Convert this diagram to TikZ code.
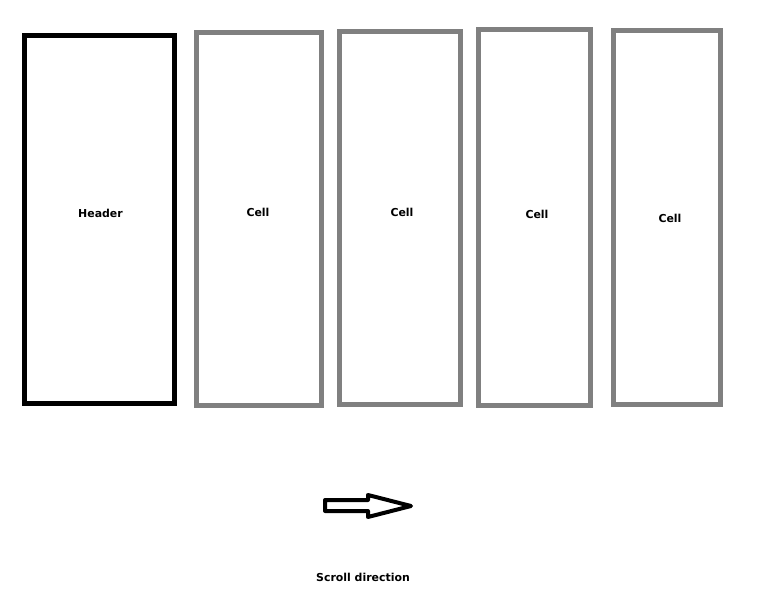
\documentclass[tikz,border=0pt]{standalone}
\usepackage{fontspec}
\setmainfont{DejaVu Sans}
\begin{document}
\begin{tikzpicture}[x=0.75pt,y=-0.75pt,
        lbl/.style={font=\bfseries\fontsize{8.2}{10}\selectfont, inner sep=0pt}]
        \useasboundingbox (0,0) rectangle (783,614);
        \draw [draw=black,line width=3.75pt] (24.5,35.5) rectangle (174.5,403.5);
        \draw [draw=gray,line width=3.75pt] (196.5,32.5) rectangle (321.5,405.5);
        \draw [draw=gray,line width=3.75pt] (339.5,31.5) rectangle (460.5,404.5);
        \draw [draw=gray,line width=3.75pt] (478.5,29.5) rectangle (590.5,405.5);
        \draw [draw=gray,line width=3.75pt] (613.5,30.5) rectangle (720.5,404.5);
        \node[lbl] at (100.5,213) (header){Header};
        \node[lbl] at (258,212) (cella){Cell};
        \node[lbl] at (402,212) (cellb){Cell};
        \node[lbl] at (537,214) (cellc){Cell};
        \node[lbl] at (670,218) (celld){Cell};
        \draw [draw=black,line width=3pt,line join=round] (325,500) -- (368,500) -- (368,495) -- (411,506)
            -- (368,517) -- (368,511) -- (325,511) -- cycle;
        \node[lbl] at (363,577) (scroll){Scroll direction};
    \end{tikzpicture}
\end{document}
